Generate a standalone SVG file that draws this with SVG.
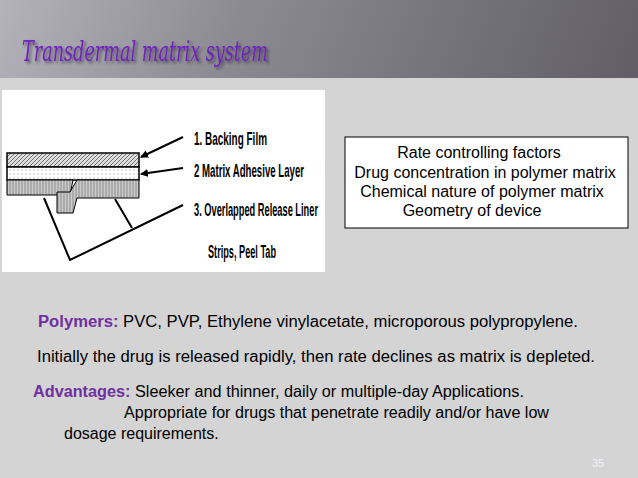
<svg xmlns="http://www.w3.org/2000/svg" width="638" height="478" viewBox="0 0 638 478">
<defs>
<linearGradient id="bg" x1="0" y1="0" x2="1" y2="0.3"><stop offset="0" stop-color="#b4b2ba"/><stop offset="0.35" stop-color="#8c8a92"/><stop offset="1" stop-color="#5e5c62"/></linearGradient>
<pattern id="hatch" width="4" height="4" patternUnits="userSpaceOnUse"><rect width="4" height="4" fill="#ddd"/><path d="M0,4 L4,0" stroke="#555" stroke-width="0.8"/></pattern>
<pattern id="dots" width="4" height="4" patternUnits="userSpaceOnUse"><rect width="4" height="4" fill="#fff"/><circle cx="2" cy="2" r="0.6" fill="#888"/></pattern>
<pattern id="vert" width="3" height="3" patternUnits="userSpaceOnUse"><rect width="3" height="3" fill="#ccc"/><path d="M1,0 V3" stroke="#777" stroke-width="0.8"/></pattern>
<marker id="ah" markerWidth="8" markerHeight="8" refX="7" refY="4" orient="auto" markerUnits="userSpaceOnUse"><path d="M0,0 L8,4 L0,8 z" fill="#000"/></marker>
<filter id="sh"><feDropShadow dx="2" dy="2" stdDeviation="1.5" flood-color="#000" flood-opacity="0.5"/></filter>
</defs>
<style>
.lbl{font-family:"Liberation Sans",Arial,sans-serif;font-weight:bold;font-size:19px;fill:#000}
.t{font-family:"Liberation Sans",Arial,sans-serif;font-size:16px;fill:#000}
.hl{fill:#7030a0}
.ln{stroke:#000;stroke-width:2;fill:none}
</style>
<rect width="638" height="478" fill="url(#bg)"/>
<rect x="0" y="78" width="638" height="400" fill="#d4d4d4"/>
<text x="22" y="61" font-family="'DejaVu Serif',serif" font-style="italic" font-size="27" fill="#7020c0" filter="url(#sh)" textLength="246" lengthAdjust="spacingAndGlyphs">Transdermal matrix system</text>
<g id="figure">
<rect x="2" y="90" width="323" height="182" fill="#fff"/>
<rect x="7" y="153" width="132" height="14" fill="url(#hatch)" stroke="#000" stroke-width="1.5"/>
<rect x="7" y="167" width="132" height="13" fill="url(#dots)" stroke="#000" stroke-width="1.5"/>
<path d="M7,180 H73 L70,195 H7 Z" fill="url(#vert)" stroke="#000" stroke-width="1"/>
<path d="M77,180 H139 V198 H77 L73,213 H57 V192 H70 Z" fill="url(#vert)" stroke="#000" stroke-width="1"/>
<line x1="183" y1="137" x2="141" y2="157" class="ln" marker-end="url(#ah)"/>
<line x1="183" y1="168" x2="141" y2="174" class="ln" marker-end="url(#ah)"/>
<polyline points="44,198 70,260 183,205" class="ln"/>
<line x1="115" y1="199" x2="132" y2="228" class="ln"/>
<text x="194" y="145" class="lbl" textLength="73" lengthAdjust="spacingAndGlyphs">1.  Backing Film</text>
<text x="194" y="177" class="lbl" textLength="110" lengthAdjust="spacingAndGlyphs">2  Matrix Adhesive Layer</text>
<text x="194" y="216" class="lbl" textLength="124" lengthAdjust="spacingAndGlyphs">3.  Overlapped Release Liner</text>
<text x="208" y="258" class="lbl" textLength="68" lengthAdjust="spacingAndGlyphs">Strips, Peel Tab</text>
</g>
<g id="factors">
<rect x="345" y="137" width="283" height="91" fill="#fff" stroke="#000" stroke-width="1"/>
<text class="t" text-anchor="middle"><tspan x="479" y="158">Rate controlling factors</tspan><tspan x="485" y="178">Drug concentration in polymer matrix</tspan><tspan x="482" y="197">Chemical nature of polymer matrix</tspan><tspan x="472" y="216">Geometry of device</tspan></text>
</g>
<text x="38" y="327" class="t" textLength="540" lengthAdjust="spacingAndGlyphs"><tspan class="hl" font-weight="bold">Polymers:</tspan> PVC, PVP, Ethylene vinylacetate, microporous polypropylene.</text>
<text x="37" y="362" class="t" textLength="558" lengthAdjust="spacingAndGlyphs">Initially the drug is released rapidly, then rate declines as matrix is depleted.</text>
<text x="33" y="397" class="t" textLength="491" lengthAdjust="spacingAndGlyphs"><tspan class="hl" font-weight="bold">Advantages:</tspan> Sleeker and thinner, daily or multiple-day Applications.</text>
<text x="124" y="418" class="t" textLength="425" lengthAdjust="spacingAndGlyphs">Appropriate for drugs that penetrate readily and/or have low</text>
<text x="64" y="439" class="t">dosage requirements.</text>
<text x="592" y="467" font-family="'Liberation Sans',Arial,sans-serif" font-size="11" fill="#f0f0f0">35</text>
</svg>
